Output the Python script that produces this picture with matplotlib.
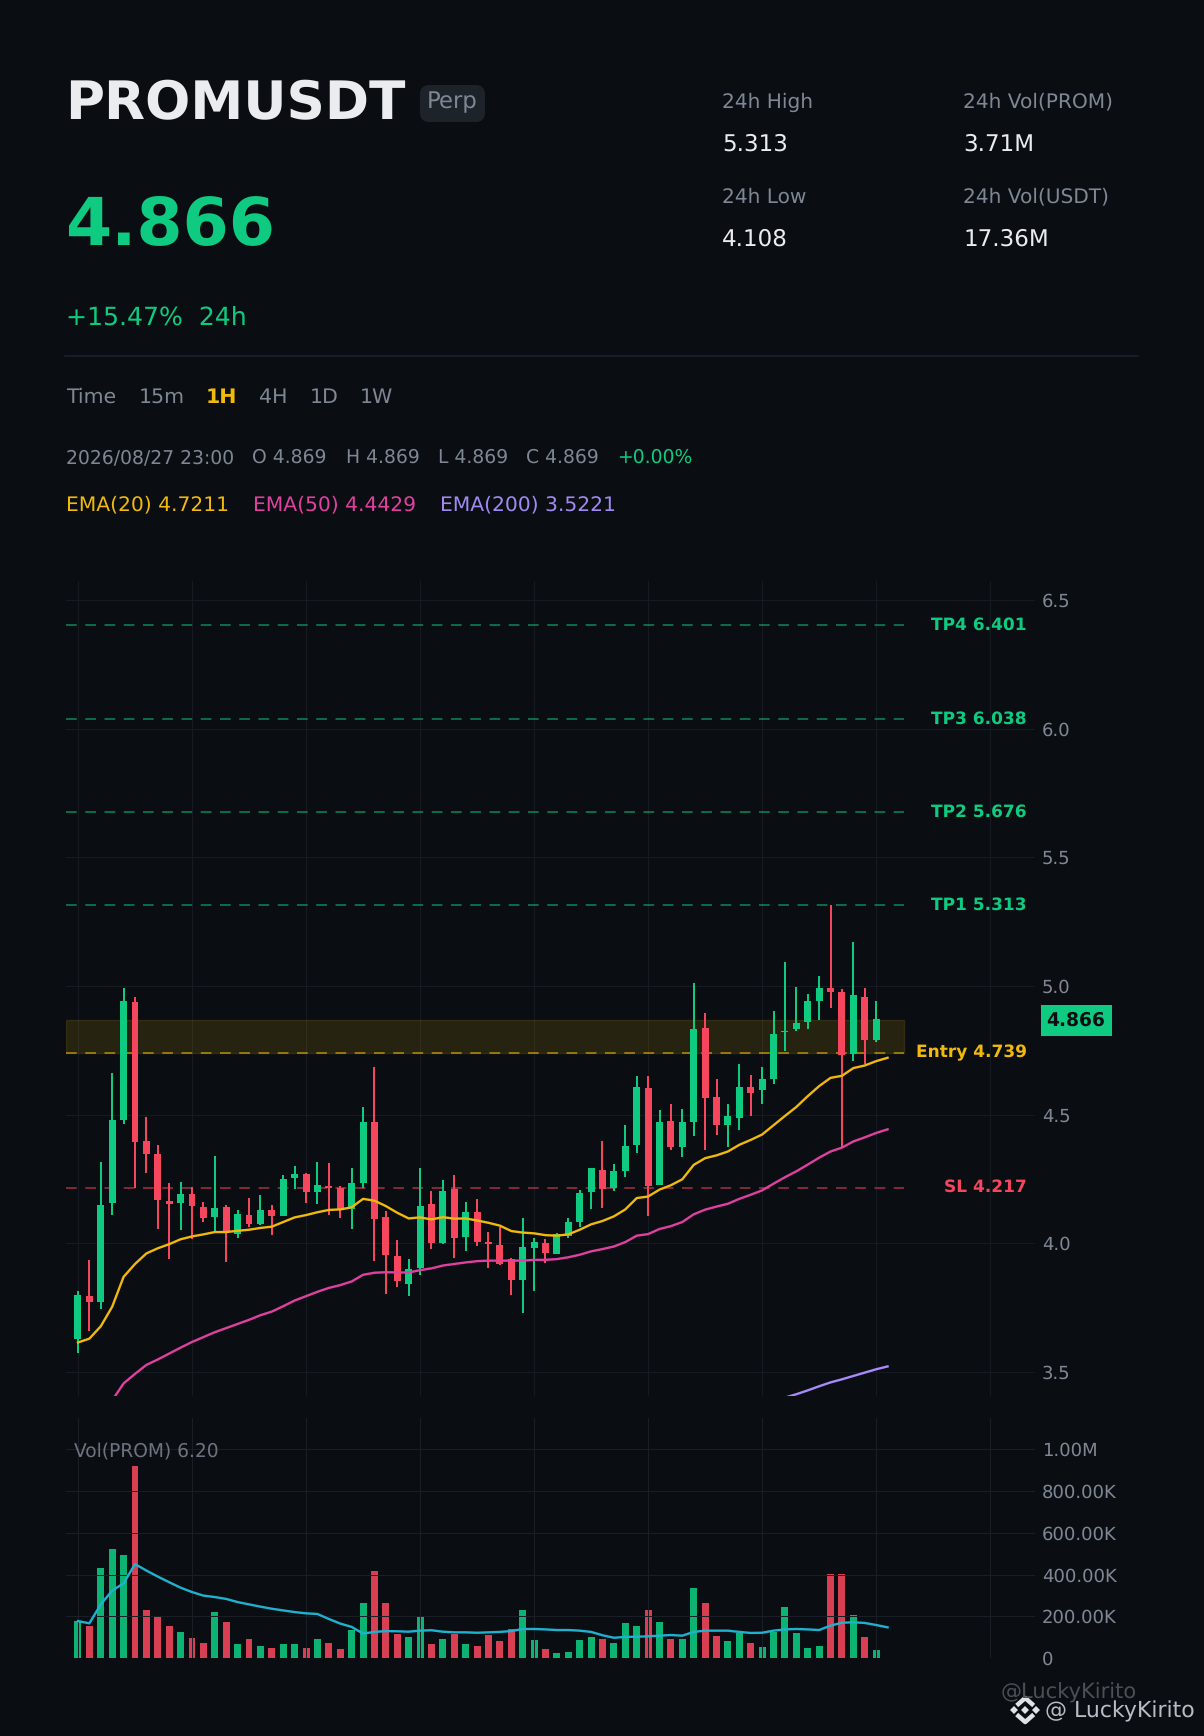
import matplotlib
matplotlib.use("Agg")
import matplotlib.pyplot as plt
from matplotlib.patches import FancyBboxPatch
import numpy as np

plt.rcParams["text.hinting"] = "no_hinting"
plt.rcParams["text.hinting_factor"] = 8

W, H = 1204, 1736
PX = 0.72  # points per pixel at dpi 100

BG = "#0a0e12"
GREEN = "#0ecb81"
RED = "#f6465d"
YELLOW = "#f0b90b"
PINK = "#e0409f"
PURPLE = "#a78bfa"
CYAN = "#1fb2d0"
GRAY = "#7f8794"
GRID = "#161a22"

# candles, one row of values per field
opens = [3.628, 3.795, 3.772, 4.157, 4.480, 4.939, 4.398, 4.348, 4.165, 4.157, 4.192, 4.141,
         4.102, 4.141, 4.036, 4.110, 4.075, 4.130, 4.106, 4.254, 4.270, 4.200, 4.223, 4.215,
         4.134, 4.235, 4.472, 4.102, 3.951, 3.842, 3.904, 4.153, 4.001, 4.211, 4.025, 4.123,
         4.006, 3.995, 3.940, 3.859, 3.983, 4.003, 3.960, 4.030, 4.084, 4.201, 4.287, 4.217,
         4.283, 4.384, 4.602, 4.228, 4.477, 4.376, 4.473, 4.835, 4.567, 4.458, 4.489, 4.606,
         4.594, 4.637, 4.820, 4.831, 4.859, 4.940, 4.991, 4.975, 4.734, 4.956, 4.789, 4.869]
highs = [3.815, 3.935, 4.316, 4.663, 4.994, 4.958, 4.492, 4.383, 4.235, 4.239, 4.219, 4.161,
         4.340, 4.149, 4.130, 4.176, 4.188, 4.149, 4.266, 4.301, 4.274, 4.316, 4.313, 4.223,
         4.293, 4.530, 4.686, 4.126, 4.013, 3.939, 4.293, 4.204, 4.246, 4.266, 4.161, 4.174,
         4.045, 4.065, 3.944, 4.100, 4.022, 4.018, 4.042, 4.100, 4.209, 4.291, 4.396, 4.310,
         4.458, 4.652, 4.652, 4.520, 4.540, 4.524, 5.010, 4.894, 4.637, 4.540, 4.695, 4.656,
         4.684, 4.901, 5.092, 4.995, 4.968, 5.038, 5.313, 4.987, 5.170, 4.991, 4.940, 4.869]
lows = [3.575, 3.659, 3.745, 4.110, 4.464, 4.214, 4.274, 4.056, 3.939, 4.052, 4.017, 4.083,
        4.044, 3.927, 4.021, 4.064, 4.071, 4.032, 4.106, 4.211, 4.157, 4.153, 4.110, 4.099,
        4.056, 4.215, 3.931, 3.803, 3.830, 3.795, 3.877, 3.978, 3.997, 3.943, 3.970, 3.991,
        3.905, 3.917, 3.800, 3.730, 3.816, 3.925, 3.960, 4.022, 4.065, 4.135, 4.139, 4.205,
        4.256, 4.353, 4.108, 4.228, 4.364, 4.337, 4.419, 4.364, 4.423, 4.376, 4.442, 4.493,
        4.540, 4.621, 4.746, 4.824, 4.831, 4.866, 4.913, 4.376, 4.707, 4.695, 4.781, 4.869]
closes = [3.799, 3.772, 4.149, 4.480, 4.943, 4.394, 4.348, 4.169, 4.153, 4.192, 4.145, 4.099,
          4.137, 4.044, 4.114, 4.075, 4.130, 4.106, 4.250, 4.270, 4.200, 4.227, 4.215, 4.134,
          4.235, 4.472, 4.095, 3.955, 3.853, 3.900, 4.145, 4.001, 4.204, 4.021, 4.122, 4.006,
          3.999, 3.921, 3.859, 3.987, 4.006, 3.964, 4.038, 4.084, 4.197, 4.291, 4.213, 4.283,
          4.380, 4.606, 4.224, 4.473, 4.376, 4.473, 4.831, 4.563, 4.458, 4.493, 4.606, 4.586,
          4.637, 4.812, 4.827, 4.855, 4.940, 4.991, 4.975, 4.730, 4.964, 4.789, 4.870, 4.869]

ema20 = [3.615, 3.630, 3.678, 3.754, 3.870, 3.920, 3.961, 3.981, 3.997, 4.016, 4.027, 4.035,
         4.044, 4.044, 4.049, 4.053, 4.060, 4.065, 4.083, 4.101, 4.110, 4.121, 4.130, 4.132,
         4.140, 4.173, 4.166, 4.145, 4.119, 4.097, 4.101, 4.093, 4.102, 4.096, 4.097, 4.089,
         4.080, 4.069, 4.048, 4.042, 4.039, 4.032, 4.030, 4.035, 4.053, 4.074, 4.087, 4.105,
         4.132, 4.176, 4.182, 4.209, 4.226, 4.249, 4.305, 4.331, 4.342, 4.357, 4.383, 4.402,
         4.423, 4.459, 4.495, 4.530, 4.572, 4.611, 4.643, 4.651, 4.681, 4.691, 4.708, 4.721]
ema50_start = 3
ema50 = [3.390, 3.456, 3.493, 3.528, 3.549, 3.572, 3.595, 3.617, 3.636, 3.655, 3.671, 3.687,
         3.703, 3.721, 3.735, 3.756, 3.778, 3.795, 3.812, 3.827, 3.838, 3.852, 3.878, 3.886,
         3.888, 3.887, 3.887, 3.896, 3.903, 3.914, 3.920, 3.926, 3.931, 3.933, 3.933, 3.933,
         3.933, 3.936, 3.936, 3.939, 3.946, 3.956, 3.969, 3.978, 3.988, 4.005, 4.030, 4.036,
         4.056, 4.067, 4.083, 4.113, 4.131, 4.143, 4.154, 4.173, 4.189, 4.206, 4.232, 4.257,
         4.280, 4.306, 4.333, 4.357, 4.372, 4.396, 4.412, 4.429, 4.443]
ema200_start = 62
ema200 = [3.401, 3.414, 3.429, 3.445, 3.460, 3.472, 3.485, 3.498, 3.511, 3.522]

volume = [177, 153, 431, 522, 494, 920, 230, 196, 153, 125, 96, 72, 220, 173, 67, 91, 58, 48,
          67, 67, 48, 91, 72, 43, 134, 264, 417, 264, 115, 101, 200, 67, 91, 115, 67, 58, 110,
          81, 139, 230, 86, 43, 24, 29, 86, 101, 91, 72, 168, 153, 230, 173, 91, 91, 335, 264,
          105, 81, 120, 72, 53, 125, 244, 120, 48, 58, 401, 401, 206, 101, 38, 0.0062]
vol_ma = [177, 166, 257, 323, 358, 450, 419, 390, 363, 337, 316, 299, 292, 283, 268, 257, 246,
          236, 228, 220, 214, 211, 187, 165, 149, 117, 125, 129, 128, 126, 131, 133, 126, 123,
          123, 121, 123, 125, 129, 139, 139, 137, 134, 134, 131, 125, 109, 97, 101, 102, 104,
          107, 110, 107, 125, 131, 131, 131, 125, 120, 121, 131, 137, 139, 137, 134, 155, 169,
          171, 168, 158, 147]

price_ticks = [3.5, 4.0, 4.5, 5.0, 5.5, 6.0, 6.5]
vol_ticks = [0, 200, 400, 600, 800, 1000]
vol_tick_labels = ["0", "200.00K", "400.00K", "600.00K", "800.00K", "1.00M"]
grid_x = [0, 10, 20, 30, 40, 50, 60, 70, 80]

tp_levels = [6.401, 6.038, 5.676, 5.313]
tp_names = ["TP4", "TP3", "TP2", "TP1"]
entry = 4.739
stop = 4.217
zone_top = 4.866
last_price = 4.866

stats = [("24h High", "5.313", 722.3, 107.5, 151), ("24h Low", "4.108", 722.3, 202.5, 246),
         ("24h Vol(PROM)", "3.71M", 963, 107.5, 151), ("24h Vol(USDT)", "17.36M", 963, 202.5, 246)]
intervals = [("Time", 66), ("15m", 139), ("1H", 206), ("4H", 259.5), ("1D", 310), ("1W", 360)]
ohlc_row = [("2026/08/27 23:00", 66.5), ("O 4.869", 252.5), ("H 4.869", 345.5), ("L 4.869", 437.5),
            ("C 4.869", 526)]


def panel(fig, left, top, right, bottom):
    return fig.add_axes([left / W, 1 - bottom / H, (right - left) / W, (bottom - top) / H])


def style_panel(ax):
    ax.set_facecolor(BG)
    for s in ax.spines.values():
        s.set_visible(False)
    ax.set_xticks(grid_x)
    ax.set_xticklabels([])
    ax.yaxis.tick_right()
    ax.tick_params(length=0, pad=4.8, labelsize=18 * PX, labelcolor=GRAY)
    ax.grid(True, color=GRID, lw=1 * PX)


fig = plt.figure(figsize=(W / 100, H / 100), dpi=100, facecolor=BG)

# price panel
ax = panel(fig, 66, 581.3, 1035, 1396.3)
style_panel(ax)
ax.set_axisbelow(True)
x_all = np.arange(len(opens))
x_end = 72.4
ax.set_xlim(-1.05, 83.93)
ax.set_ylim(3.406, 6.572)
ax.set_yticks(price_ticks)

ax.fill_between([-1.05, x_end], entry, zone_top, facecolor=YELLOW, alpha=0.125, edgecolor=YELLOW,
                lw=1, zorder=1.5)
for level in tp_levels:
    ax.plot([-1.05, x_end], [level, level], color=GREEN, alpha=0.5, lw=1.4, dashes=(5.5, 4.4),
            dash_capstyle="butt", zorder=1.6)
ax.plot([-1.05, x_end], [entry, entry], color=YELLOW, alpha=0.55, lw=1.4, dashes=(5.5, 4.4),
        dash_capstyle="butt", zorder=1.6)
ax.plot([-1.05, x_end], [stop, stop], color=RED, alpha=0.5, lw=1.4, dashes=(5.5, 4.4),
        dash_capstyle="butt", zorder=1.6)

colors = [GREEN if c >= o else RED for o, c in zip(opens, closes)]
ax.vlines(x_all, lows, highs, colors=colors, lw=2 * PX, zorder=2)
ax.bar(x_all, np.abs(np.array(closes) - np.array(opens)), bottom=np.minimum(opens, closes),
       width=0.61, color=colors, zorder=2.1)

ax.plot(x_all, ema20, color=YELLOW, lw=1.7, zorder=3, solid_joinstyle="round")
ax.plot(x_all[ema50_start:], ema50, color=PINK, lw=1.7, zorder=3)
ax.plot(x_all[ema200_start:], ema200, color=PURPLE, lw=1.7, zorder=3)

label_x = 0.9914
for name, level in zip(tp_names, tp_levels):
    ax.text(label_x, level, f"{name} {level:.3f}", transform=ax.get_yaxis_transform(), ha="right",
            va="center", color=GREEN, fontsize=17 * PX, fontweight="bold")
ax.text(label_x, entry, f"Entry {entry:.3f}", transform=ax.get_yaxis_transform(), ha="right",
        va="center", color=YELLOW, fontsize=17 * PX, fontweight="bold")
ax.text(label_x, stop, f"SL {stop:.3f}", transform=ax.get_yaxis_transform(), ha="right",
        va="center", color=RED, fontsize=17 * PX, fontweight="bold")

# volume panel
ax2 = panel(fig, 66, 1418.3, 1035, 1658)
style_panel(ax2)
ax2.set_xlim(-1.05, 83.93)
ax2.set_ylim(0, 1148.5)
ax2.set_yticks(vol_ticks)
ax2.set_yticklabels(vol_tick_labels)
ax2.set_axisbelow(False)
ax2.bar(x_all, volume, width=0.61, color=colors, alpha=0.88, zorder=1.5)
ax2.grid(True, color="#1a1e27", lw=1 * PX, zorder=2)
ax2.plot(x_all, vol_ma, color=CYAN, lw=1.7, zorder=3)

# header and other text, placed in pixels
over = fig.add_axes([0, 0, 1, 1], facecolor="none")
over.set_xlim(0, W)
over.set_ylim(H, 0)
over.axis("off")


def put(x, y, s, size, color, weight="normal", ha="left", alpha=None):
    over.text(x, y, s, fontsize=size * PX, color=color, fontweight=weight, ha=ha, va="baseline",
              alpha=alpha)


put(65.5, 119, "PROMUSDT", 53.2, "#eaecef", "bold")
over.add_patch(FancyBboxPatch((424, 89), 57, 29, boxstyle="round,pad=0,rounding_size=5",
                              mutation_aspect=1, facecolor="#1e2229", edgecolor="#1e2229", lw=8 * PX))
put(426.5, 108.5, "Perp", 22.8, GRAY)
put(65.5, 245, "4.866", 66.4, GREEN, "bold")
put(66, 325, "+15.47%  24h", 25.1, GREEN)
over.plot([65, 1138], [355.7, 355.7], color="#1c2230", lw=1.5 * PX)

for label, value, x, y1, y2 in stats:
    put(x, y1, label, 20.1, GRAY)
    put(x, y2, value, 23, "#eaecef")

for label, x in intervals:
    if label == "1H":
        put(x, 403, label, 20.5, YELLOW, "bold")
    else:
        put(x, 403, label, 20.5, GRAY)

for label, x in ohlc_row:
    put(x, 463, label, 18.8, GRAY)
put(617, 463, "+0.00%", 18.8, GREEN)

put(66.5, 510, "EMA(20) 4.7211", 20.3, YELLOW)
put(253, 510, "EMA(50) 4.4429", 20.3, PINK)
put(440.5, 510, "EMA(200) 3.5221", 20.3, "#a08af2")

put(74.3, 1456.5, "Vol(PROM) 6.20", 18.7, "#6d7480")

# last price tag
over.add_patch(plt.Rectangle((1040.5, 1005), 71, 31, facecolor=GREEN, edgecolor="none"))
put(1046.5, 1026, "4.866", 18.7, "#0a0e12", "bold")

# watermark
put(1001, 1699, "@LuckyKirito", 21, "#4a4f58")
put(1045, 1717, "@ LuckyKirito", 22, "#b7bdc6")
logo_x, logo_y = 1025.2, 1710
for sign in (-1, 1):
    over.plot([logo_x - 8.5, logo_x, logo_x + 8.5],
              [logo_y + sign * 4.5, logo_y + sign * 12, logo_y + sign * 4.5],
              color="#dfe2e6", lw=4.5 * PX, solid_capstyle="butt")
    over.plot([logo_x + sign * 11], [logo_y], marker="D", ms=5.5 * PX, color="#dfe2e6", mew=0)
over.plot([logo_x], [logo_y], marker="D", ms=6 * PX, color="#dfe2e6", mew=0)

fig.savefig("out.png", dpi=100, facecolor=BG)
